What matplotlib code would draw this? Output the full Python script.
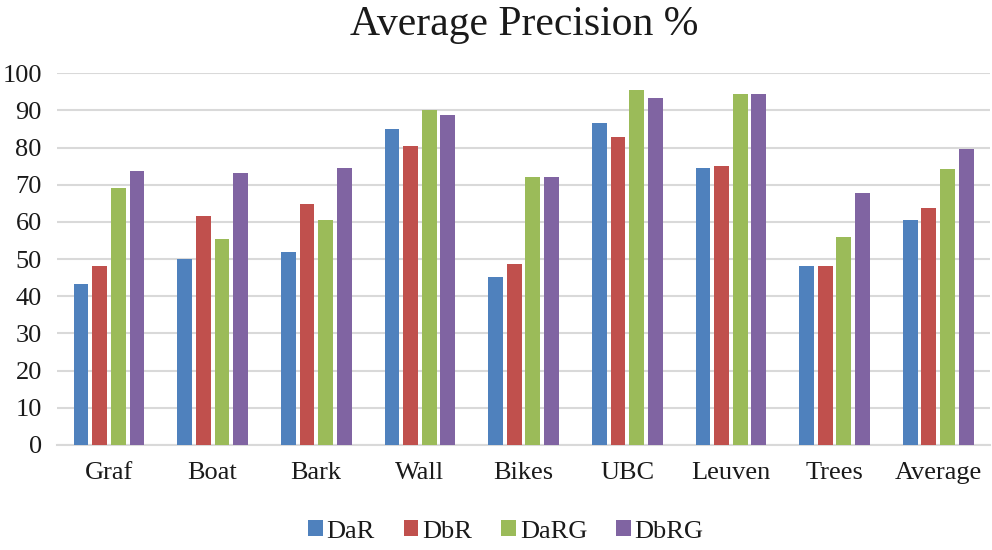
import matplotlib.pyplot as plt
import numpy as np

plt.rcParams['font.family'] = ['Liberation Serif', 'DejaVu Serif']

categories = ['Graf', 'Boat', 'Bark', 'Wall', 'Bikes', 'UBC', 'Leuven', 'Trees', 'Average']
dar = [43.4, 50.0, 51.9, 84.9, 45.2, 86.6, 74.5, 48.0, 60.5]
dbr = [48.2, 61.7, 64.8, 80.5, 48.7, 82.8, 75.1, 48.0, 63.7]
darg = [69.2, 55.5, 60.4, 90.2, 72.0, 95.5, 94.5, 56.0, 74.2]
dbrg = [73.6, 73.1, 74.5, 88.8, 72.1, 93.3, 94.5, 67.7, 79.7]

series = [('DaR', dar, '#4F81BD'), ('DbR', dbr, '#C0504D'),
          ('DaRG', darg, '#9BBB59'), ('DbRG', dbrg, '#8064A2')]

fig = plt.figure(figsize=(9.92, 5.5), dpi=100)
ax = fig.add_axes([0.0575, 0.191, 0.9405, 0.676])

x = np.arange(len(categories))
step = 0.180
width = 0.142
for i, (name, vals, col) in enumerate(series):
    ax.bar(x + (i - 1.5) * step, vals, width, color=col, label=name, zorder=3)

ax.set_ylim(0, 100)
ax.set_xlim(-0.5, len(categories) - 0.5)
ax.set_yticks(range(0, 101, 10))
ax.yaxis.grid(True, color='#D9D9D9', linewidth=1.5, zorder=0)
ax.set_xticks(x)
ax.set_xticklabels(categories)
ax.tick_params(axis='both', length=0, labelsize=19, colors='#1a1a1a')
ax.tick_params(axis='x', pad=12)
ax.tick_params(axis='y', pad=11)
for s in ['top', 'right', 'left']:
    ax.spines[s].set_visible(False)
ax.spines['bottom'].set_color('#D9D9D9')
ax.spines['bottom'].set_linewidth(1.5)

fig.suptitle('Average Precision %', fontsize=30, y=0.99, x=0.528, color='#1a1a1a')
fig.legend(loc='lower center', ncol=4, frameon=False, fontsize=19,
           handlelength=0.55, handleheight=0.55, handletextpad=0.15,
           columnspacing=1.1, bbox_to_anchor=(0.51, -0.03), labelcolor='#1a1a1a')

fig.savefig('out.png', dpi=100)
